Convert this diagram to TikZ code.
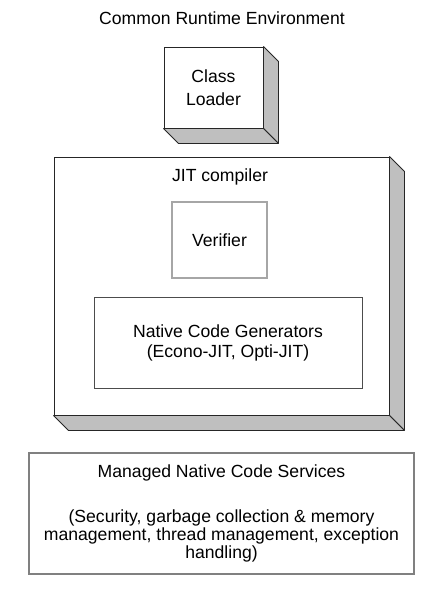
\documentclass[tikz,border=0pt]{standalone}
\usepackage{fontspec}
\setmainfont{Liberation Sans}
\usetikzlibrary{calc}
\begin{document}
\begin{tikzpicture}[x=1pt,y=-1pt,
  txt/.style={font=\fontsize{17.6}{20}\selectfont, align=center, inner sep=0pt},
  front/.style={draw=black!85, line width=0.9pt, fill=white, inner sep=0pt, txt},
  side/.style={draw=black!85, line width=0.9pt, fill=black!25, line join=bevel},
  verbox/.style={draw=black!35, line width=1.8pt, fill=white, inner sep=0pt, txt},
  genbox/.style={draw=black!70, line width=0.9pt, fill=white, inner sep=0pt, txt},
  mgbox/.style={draw=black!50, line width=1.4pt, fill=white, inner sep=0pt, txt}]
\useasboundingbox (0,0) rectangle (446,607);
\fill[white] (0,0) rectangle (446,607);

\node[txt] (title) at (222,18) {Common Runtime Environment};

% Class Loader
\node[front, minimum width=99pt, minimum height=81pt,
      font=\fontsize{17.6}{23}\selectfont] (cl) at (213.5,87.5) {Class\\Loader};
\draw[side] (cl.north east) -- ++(15,15) -- ($(cl.south east)+(15,15)$) -- (cl.south east) -- cycle;
\draw[side] (cl.south west) -- ++(15,15) -- ($(cl.south east)+(15,15)$) -- (cl.south east) -- cycle;

% JIT compiler
\node[front, minimum width=335pt, minimum height=258pt] (jit) at (221.5,286) {};
\draw[side] (jit.north east) -- ++(15,15) -- ($(jit.south east)+(15,15)$) -- (jit.south east) -- cycle;
\draw[side] (jit.south west) -- ++(15,15) -- ($(jit.south east)+(15,15)$) -- (jit.south east) -- cycle;
\node[txt] (jitlabel) at (220,177) {JIT compiler};

\node[verbox, minimum width=95pt, minimum height=76pt] (ver) at (219.5,240) {Verifier};
\node[genbox, minimum width=268pt, minimum height=91pt] (gen) at (228,342.5)
  {Native Code Generators\\(Econo-JIT, Opti-JIT)};

% Managed services
\node[mgbox, minimum width=385pt, minimum height=121pt,
      font=\fontsize{17.6}{18}\selectfont] (mg) at (221.5,513.5)
  {Managed Native Code Services\\[27pt]
   (Security, garbage collection \& memory\\
   management, thread management, exception\\
   handling)};
\end{tikzpicture}
\end{document}
